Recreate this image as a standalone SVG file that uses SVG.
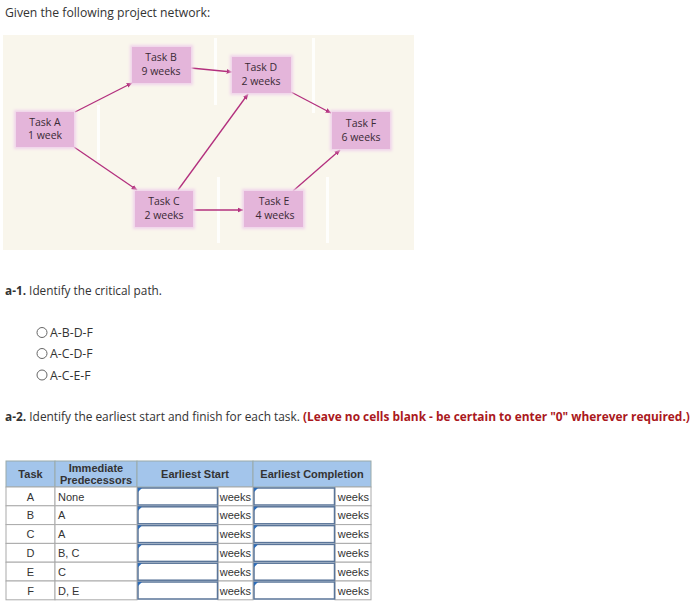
<svg xmlns="http://www.w3.org/2000/svg" width="700" height="609" viewBox="0 0 700 609">
<defs>
<marker id="ah" viewBox="0 0 10 10" refX="9" refY="5" markerWidth="6" markerHeight="6" orient="auto" markerUnits="userSpaceOnUse">
<path d="M0,1 L10,5 L0,9 z" fill="#b3307e"/>
</marker>
<filter id="glow" x="-20%" y="-20%" width="140%" height="140%">
<feGaussianBlur stdDeviation="1.5"/>
</filter>
</defs>
<style>
.txt{font-family:"Open Sans","Liberation Sans",sans-serif;fill:#333;font-size:12.2px}
.b{font-weight:bold}
.red{fill:#aa1820;font-weight:bold}
.nd{fill:#e4b5da}
.ndg{fill:#f0d3ea;filter:url(#glow)}
.nt{font-family:"Open Sans","Liberation Sans",sans-serif;fill:#3a2a35;font-size:10.5px;text-anchor:middle}
.cn{stroke:#b3307e;stroke-width:1.3;fill:none;marker-end:url(#ah)}
.rad{fill:#fff;stroke:#666;stroke-width:1}
.th{fill:#a3c5eb;stroke:#9aa;stroke-width:1}
.td{fill:#fff;stroke:#aaa;stroke-width:1}
.tt{font-family:"Liberation Sans",Arial,sans-serif;font-size:11px;fill:#333}
.thd{font-family:"Liberation Sans",Arial,sans-serif;font-size:11px;fill:#333;font-weight:bold;text-anchor:middle}
.inp{fill:#fff;stroke:#5a7599;stroke-width:1.5}
.tri{fill:#2d6cb8}
.stripe{fill:#ffffff;opacity:0.85}
</style>
<rect width="700" height="609" fill="#fff"/>
<text class="txt" x="5" y="17">Given the following project network:</text>

<g id="network-bg">
<rect x="3" y="35" width="411" height="215" fill="#f9f6ec"/>
<rect class="stripe" x="214" y="38" width="3" height="67"/>
<rect class="stripe" x="312" y="38" width="3" height="75"/>
<rect class="stripe" x="97" y="105" width="3" height="55"/>
<rect class="stripe" x="217" y="177" width="3" height="66"/>
<rect class="stripe" x="326" y="177" width="3" height="66"/>
</g>

<g id="connectors">
<line class="cn" x1="75" y1="112" x2="132" y2="83"/>
<line class="cn" x1="191" y1="68" x2="232" y2="72"/>
<line class="cn" x1="74" y1="147" x2="137" y2="190"/>
<line class="cn" x1="178" y1="190" x2="248" y2="94"/>
<line class="cn" x1="193" y1="210" x2="243" y2="210"/>
<line class="cn" x1="291" y1="92" x2="331" y2="113"/>
<line class="cn" x1="293" y1="191" x2="340" y2="150"/>
</g>

<g id="taskA"><rect class="ndg" x="14" y="110" width="62" height="39"/><rect class="nd" x="16" y="112" width="58" height="35"/><text class="nt" x="45" y="126">Task A</text><text class="nt" x="45" y="139">1 week</text></g>
<g id="taskB"><rect class="ndg" x="130" y="45" width="63" height="40"/><rect class="nd" x="132" y="47" width="59" height="36"/><text class="nt" x="161" y="61">Task B</text><text class="nt" x="161" y="75">9 weeks</text></g>
<g id="taskD"><rect class="ndg" x="230" y="55" width="63" height="40"/><rect class="nd" x="232" y="57" width="59" height="36"/><text class="nt" x="261" y="71">Task D</text><text class="nt" x="261" y="85">2 weeks</text></g>
<g id="taskF"><rect class="ndg" x="330" y="110" width="62" height="41"/><rect class="nd" x="332" y="112" width="58" height="37"/><text class="nt" x="361" y="127">Task F</text><text class="nt" x="361" y="141">6 weeks</text></g>
<g id="taskC"><rect class="ndg" x="133" y="189" width="62" height="40"/><rect class="nd" x="135" y="191" width="58" height="36"/><text class="nt" x="164" y="205">Task C</text><text class="nt" x="164" y="219">2 weeks</text></g>
<g id="taskE"><rect class="ndg" x="242" y="189" width="63" height="40"/><rect class="nd" x="244" y="191" width="59" height="36"/><text class="nt" x="274" y="205">Task E</text><text class="nt" x="275" y="219">4 weeks</text></g>

<text class="txt" x="5" y="295" style="font-size:11.8px"><tspan class="b">a-1.</tspan> Identify the critical path.</text>
<g id="options">
<circle class="rad" cx="42" cy="332.5" r="5"/><text class="txt" x="50" y="337" style="font-size:12.3px">A-B-D-F</text>
<circle class="rad" cx="42" cy="353.5" r="5"/><text class="txt" x="50" y="358" style="font-size:12.3px">A-C-D-F</text>
<circle class="rad" cx="42" cy="375" r="5"/><text class="txt" x="50" y="379.5" style="font-size:12.3px">A-C-E-F</text>
</g>

<text class="txt" x="5" y="421" style="font-size:11.9px"><tspan class="b">a-2.</tspan> Identify the earliest start and finish for each task. <tspan class="red">(Leave no cells blank - be certain to enter "0" wherever required.)</tspan></text>

<g id="table">
<rect class="th" x="6" y="461" width="49" height="26"/>
<rect class="th" x="55" y="461" width="82" height="26"/>
<rect class="th" x="137" y="461" width="116" height="26"/>
<rect class="th" x="253" y="461" width="118" height="26"/>
<text class="thd" x="30.5" y="478">Task</text>
<text class="thd" x="96" y="471.5">Immediate</text>
<text class="thd" x="96" y="484">Predecessors</text>
<text class="thd" x="195" y="478">Earliest Start</text>
<text class="thd" x="312" y="478">Earliest Completion</text>

<g id="rows">
<rect class="td" x="6" y="487" width="49" height="18.8"/><rect class="td" x="55" y="487" width="82" height="18.8"/><rect class="td" x="218" y="487" width="35" height="18.8"/><rect class="td" x="335" y="487" width="36" height="18.8"/>
<rect class="td" x="6" y="505.8" width="49" height="18.8"/><rect class="td" x="55" y="505.8" width="82" height="18.8"/><rect class="td" x="218" y="505.8" width="35" height="18.8"/><rect class="td" x="335" y="505.8" width="36" height="18.8"/>
<rect class="td" x="6" y="524.6" width="49" height="18.8"/><rect class="td" x="55" y="524.6" width="82" height="18.8"/><rect class="td" x="218" y="524.6" width="35" height="18.8"/><rect class="td" x="335" y="524.6" width="36" height="18.8"/>
<rect class="td" x="6" y="543.4" width="49" height="18.8"/><rect class="td" x="55" y="543.4" width="82" height="18.8"/><rect class="td" x="218" y="543.4" width="35" height="18.8"/><rect class="td" x="335" y="543.4" width="36" height="18.8"/>
<rect class="td" x="6" y="562.2" width="49" height="18.8"/><rect class="td" x="55" y="562.2" width="82" height="18.8"/><rect class="td" x="218" y="562.2" width="35" height="18.8"/><rect class="td" x="335" y="562.2" width="36" height="18.8"/>
<rect class="td" x="6" y="581" width="49" height="18.8"/><rect class="td" x="55" y="581" width="82" height="18.8"/><rect class="td" x="218" y="581" width="35" height="18.8"/><rect class="td" x="335" y="581" width="36" height="18.8"/>
</g>
<g id="inputs">
<rect class="inp" x="138" y="488" width="79.5" height="17"/><rect class="inp" x="254" y="488" width="80.5" height="17"/>
<rect class="inp" x="138" y="506.8" width="79.5" height="17"/><rect class="inp" x="254" y="506.8" width="80.5" height="17"/>
<rect class="inp" x="138" y="525.6" width="79.5" height="17"/><rect class="inp" x="254" y="525.6" width="80.5" height="17"/>
<rect class="inp" x="138" y="544.4" width="79.5" height="17"/><rect class="inp" x="254" y="544.4" width="80.5" height="17"/>
<rect class="inp" x="138" y="563.2" width="79.5" height="17"/><rect class="inp" x="254" y="563.2" width="80.5" height="17"/>
<rect class="inp" x="138" y="582" width="79.5" height="17"/><rect class="inp" x="254" y="582" width="80.5" height="17"/>
<path class="tri" d="M138,488 h4 l-4,4 z M254,488 h4 l-4,4 z M138,506.8 h4 l-4,4 z M254,506.8 h4 l-4,4 z M138,525.6 h4 l-4,4 z M254,525.6 h4 l-4,4 z M138,544.4 h4 l-4,4 z M254,544.4 h4 l-4,4 z M138,563.2 h4 l-4,4 z M254,563.2 h4 l-4,4 z M138,582 h4 l-4,4 z M254,582 h4 l-4,4 z"/>
</g>
<g id="cells">
<text class="tt" x="30.5" y="500.5" text-anchor="middle">A</text><text class="tt" x="58" y="500.5">None</text><text class="tt" x="251" y="500.5" text-anchor="end">weeks</text><text class="tt" x="369" y="500.5" text-anchor="end">weeks</text>
<text class="tt" x="30.5" y="519.3" text-anchor="middle">B</text><text class="tt" x="58" y="519.3">A</text><text class="tt" x="251" y="519.3" text-anchor="end">weeks</text><text class="tt" x="369" y="519.3" text-anchor="end">weeks</text>
<text class="tt" x="30.5" y="538.1" text-anchor="middle">C</text><text class="tt" x="58" y="538.1">A</text><text class="tt" x="251" y="538.1" text-anchor="end">weeks</text><text class="tt" x="369" y="538.1" text-anchor="end">weeks</text>
<text class="tt" x="30.5" y="556.9" text-anchor="middle">D</text><text class="tt" x="58" y="556.9">B, C</text><text class="tt" x="251" y="556.9" text-anchor="end">weeks</text><text class="tt" x="369" y="556.9" text-anchor="end">weeks</text>
<text class="tt" x="30.5" y="575.7" text-anchor="middle">E</text><text class="tt" x="58" y="575.7">C</text><text class="tt" x="251" y="575.7" text-anchor="end">weeks</text><text class="tt" x="369" y="575.7" text-anchor="end">weeks</text>
<text class="tt" x="30.5" y="594.5" text-anchor="middle">F</text><text class="tt" x="58" y="594.5">D, E</text><text class="tt" x="251" y="594.5" text-anchor="end">weeks</text><text class="tt" x="369" y="594.5" text-anchor="end">weeks</text>
</g>
</g>
</svg>
